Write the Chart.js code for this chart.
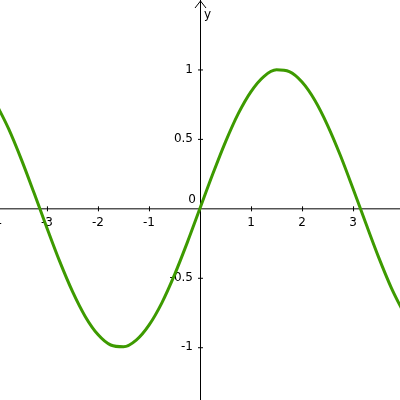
<!DOCTYPE html>
<html><head><script src="https://cdn.jsdelivr.net/npm/chart.js"></script>
<style>body{margin:0;background:#fff}</style></head><body>
<canvas id="c" width="400" height="400"></canvas>
<script>
const xs=[-4,-3.75,-3.5,-3.25,-3,-2.75,-2.5,-2.25,-2,-1.75,-1.5,-1.25,-1,-0.75,-0.5,-0.25,0,0.25,0.5,0.75,1,1.25,1.5,1.75,2,2.25,2.5,2.75,3,3.25,3.5,3.75,4];
const ys=[0.757,0.572,0.351,0.108,-0.141,-0.382,-0.598,-0.778,-0.909,-0.984,-0.997,-0.949,-0.841,-0.682,-0.479,-0.247,0,0.247,0.479,0.682,0.841,0.949,0.997,0.984,0.909,0.778,0.598,0.382,0.141,-0.108,-0.351,-0.572,-0.757];
const xTicks=[-4,-3,-2,-1,1,2,3];
const yTicks=[-1,-0.5,0.5,1];
const axes={id:'axes',beforeDatasetsDraw(ch){
 const c=ch.ctx,X=ch.scales.x,Y=ch.scales.y;const x0=X.getPixelForValue(0),y0=Y.getPixelForValue(0);
 c.save();c.strokeStyle='#000';c.lineWidth=1;c.fillStyle='#000';
 c.beginPath();c.moveTo(0,y0+.5);c.lineTo(400,y0+.5);c.moveTo(x0+.5,0);c.lineTo(x0+.5,400);
 c.moveTo(x0-5,8);c.lineTo(x0+.5,1);c.lineTo(x0+6,8);c.stroke();
 c.font='12px "DejaVu Sans"';
 c.textAlign='center';c.textBaseline='top';
 xTicks.forEach(v=>{const p=X.getPixelForValue(v);c.beginPath();c.moveTo(p+.5,y0-2);c.lineTo(p+.5,y0+3);c.stroke();c.fillText(String(v).replace('-','-'),p,y0+9);});
 c.textAlign='right';c.textBaseline='middle';
 yTicks.forEach(v=>{const p=Y.getPixelForValue(v);c.beginPath();c.moveTo(x0-2,p+.5);c.lineTo(x0+3,p+.5);c.stroke();c.fillText(String(v),x0-7,p);});
 c.textBaseline='bottom';c.fillText('0',x0-4,y0-2);
 c.textAlign='left';c.textBaseline='middle';c.fillText('y',x0+4,15);
 c.restore();}};
new Chart(document.getElementById('c'),{type:'line',
 data:{datasets:[{data:xs.map((x,i)=>({x,y:ys[i]})),borderColor:'#3d9a00',borderWidth:3,pointRadius:0,cubicInterpolationMode:'monotone',fill:false}]},
 options:{responsive:false,animation:false,layout:{padding:0},plugins:{legend:{display:false},tooltip:{enabled:false}},
 scales:{x:{type:'linear',min:-3.92,max:3.92,display:false},y:{min:-1.38,max:1.5,display:false}}},
 plugins:[axes]});
</script></body></html>
